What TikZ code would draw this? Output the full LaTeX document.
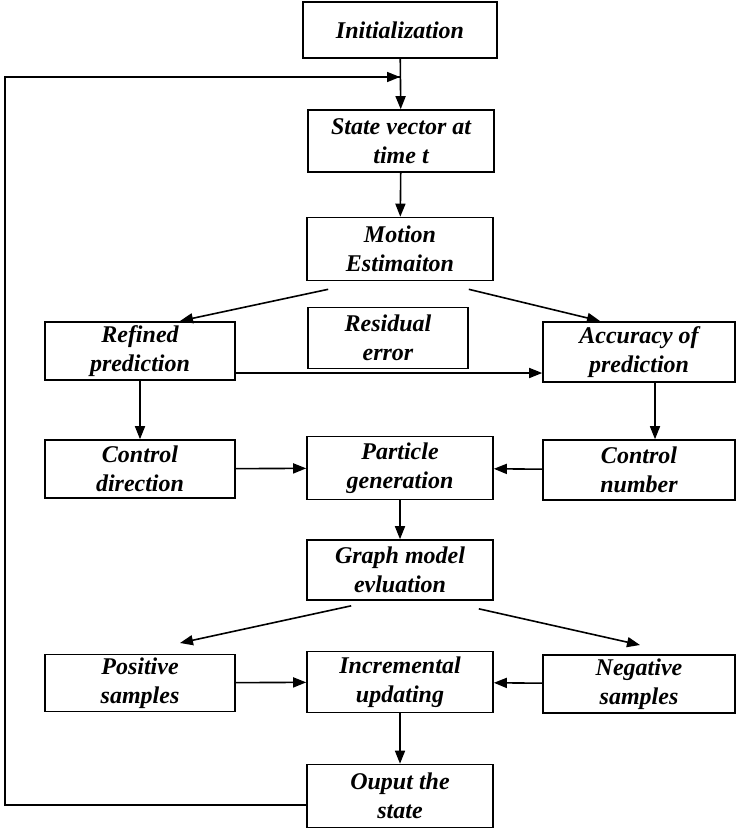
\documentclass[tikz,border=0pt]{standalone}
\usepackage{fontspec}
\setmainfont{Liberation Serif}
\usetikzlibrary{arrows.meta}
\begin{document}
\begin{tikzpicture}[x=1pt,y=-1pt,
  box/.style={draw,line width=1.6pt,minimum width=#1,align=center,inner sep=0pt,
    font=\fontsize{24}{29}\selectfont\bfseries\itshape},
  box/.default=186pt,
  arr/.style={line width=1.6pt,-{Triangle[length=13pt,width=10pt]}}]
\useasboundingbox (0,0) rectangle (752,835);
\node[box=194pt,minimum height=56pt] (init) at (400,30) {Initialization};
\node[box,minimum height=62pt] (state) at (401,141) {State vector at\\time t};
\node[box,minimum height=63pt] (motion) at (400,249) {Motion\\Estimaiton};
\node[box=190pt,minimum height=58pt] (refined) at (140,351) {Refined\\prediction};
\node[box=160pt,minimum height=61pt] (resid) at (388,338) {Residual\\error};
\node[box=192pt,minimum height=60pt] (acc) at (639,352) {Accuracy of\\prediction};
\node[box=190pt,minimum height=58pt] (cdir) at (140,469) {Control\\direction};
\node[box,minimum height=63pt] (part) at (400,468) {Particle\\generation};
\node[box=192pt,minimum height=60pt] (cnum) at (639,470) {Control\\number};
\node[box,minimum height=60pt] (graph) at (400,570) {Graph model\\evluation};
\node[box=190pt,minimum height=57pt] (pos) at (140,683) {Positive\\samples};
\node[box,minimum height=61pt] (inc) at (400,682) {Incremental\\updating};
\node[box=192pt,minimum height=58pt] (neg) at (639,684) {Negative\\samples};
\node[box,minimum height=63pt] (out) at (400,796) {Ouput the\\state};
\coordinate (fb) at (400,77);
\draw[arr] (init) -- (state);
\draw[line width=1.6pt] (out.west |- 0,805) -- (5,805) -- (5,77) -- (fb);
\draw[arr] (5,77) -- (fb);
\draw[arr] (state) -- (motion);
\draw[arr] (motion.south west) ++(22,8) -- (180,321);
\draw[arr] (motion.south east) ++(-25,8) -- (600,321);
\draw[arr] (refined.east |- 0,373) -- (acc.west |- 0,373);
\draw[arr] (refined) -- (cdir);
\draw[arr] (acc.south -| 655,0) -- (cnum.north -| 655,0);
\draw[arr] (cdir) -- (part);
\draw[arr] (cnum) -- (part);
\draw[arr] (part) -- (graph);
\draw[arr] (graph.south west) ++(45,5) -- (180,643);
\draw[arr] (graph.south east) ++(-15,8) -- (640,645);
\draw[arr] (pos) -- (inc);
\draw[arr] (neg) -- (inc);
\draw[arr] (inc) -- (out);
\end{tikzpicture}
\end{document}
